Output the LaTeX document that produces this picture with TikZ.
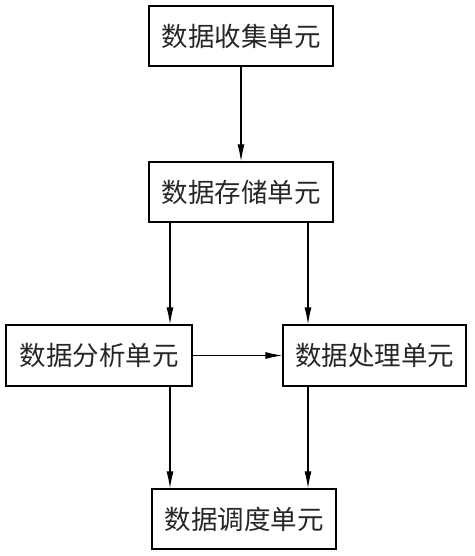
\documentclass[tikz,border=0pt]{standalone}
\usepackage{fontspec}
\newfontfamily\cjk{Noto Sans CJK SC}
\usetikzlibrary{arrows.meta,positioning}
\tikzset{unit/.style={draw,line width=1.2pt,minimum width=184pt,minimum height=60pt,font=\cjk\fontsize{26.5}{30}\selectfont,text=black!85},
link/.style={line width=1.1pt,-{Latex[length=17pt,width=7pt]}}}
\begin{document}
\begin{tikzpicture}[x=1pt,y=-1pt]
\useasboundingbox (0,0) rectangle (474,556);
\node[unit] (collect) at (241,36) {数据收集单元};
\node[unit] (store) at (241,192) {数据存储单元};
\node[unit,minimum width=186pt,minimum height=61pt] (analyse) at (99,355.5) {数据分析单元};
\node[unit,minimum width=183pt,minimum height=61pt] (process) at (374.5,355.5) {数据处理单元};
\node[unit] (schedule) at (244,519) {数据调度单元};
\coordinate (L) at (170,0);
\coordinate (R) at (308,0);
\draw[link] (collect) -- (store);
\draw[link] (L |- store.south) -- (L |- analyse.north);
\draw[link] (R |- store.south) -- (R |- process.north);
\draw[link] (analyse) -- (process);
\draw[link] (L |- analyse.south) -- (L |- schedule.north);
\draw[link] (R |- process.south) -- (R |- schedule.north);
\end{tikzpicture}
\end{document}
